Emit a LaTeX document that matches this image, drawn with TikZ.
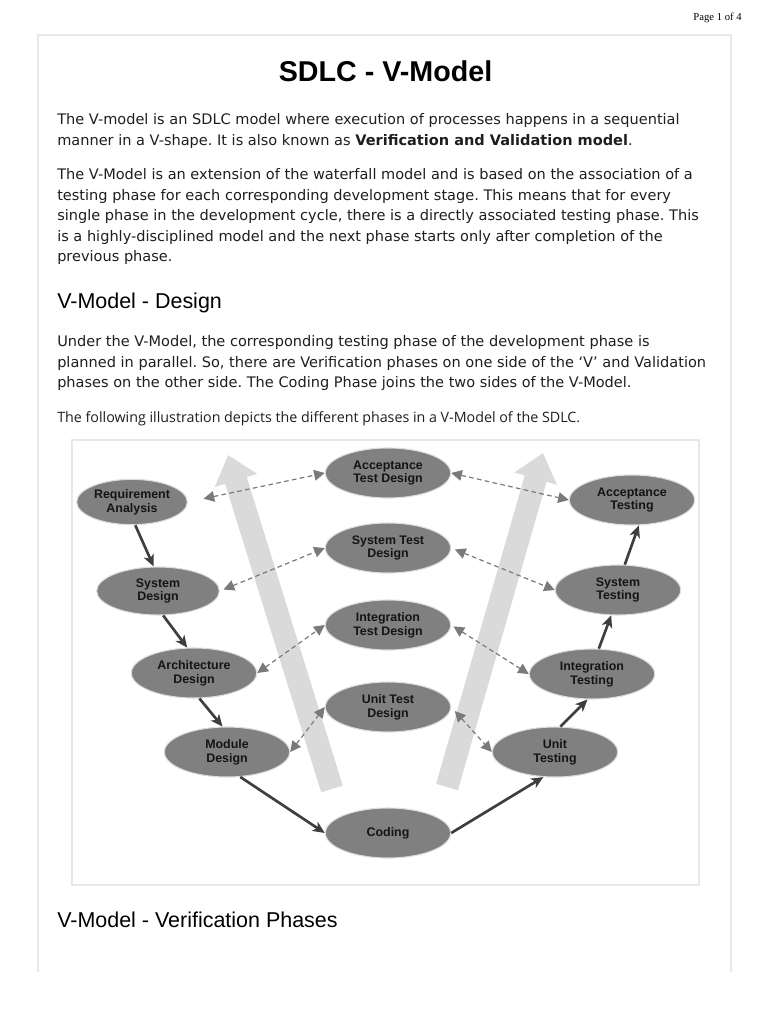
\documentclass[tikz,border=0pt]{standalone}
\usepackage{fontspec}
\usepackage{tikz}
\usetikzlibrary{arrows.meta,shapes.geometric}

\newfontfamily\bodyfont{DejaVu Sans}
\newfontfamily\headfont{Liberation Sans}
\newfontfamily\pagefont{Liberation Serif}
\newfontfamily\capfont{Open Sans}

\definecolor{phasegray}{RGB}{128,128,128}
\definecolor{phaserim}{RGB}{220,220,220}
\definecolor{flowdark}{RGB}{62,62,62}
\definecolor{linkgray}{RGB}{122,122,122}
\definecolor{bandgray}{RGB}{218,218,218}
\definecolor{cardline}{RGB}{232,232,232}
\definecolor{inktext}{RGB}{30,30,30}

\frenchspacing

\begin{document}
\begin{tikzpicture}[x=0.75pt,y=-0.75pt,
    phasebox/.style={ellipse,fill=phasegray,draw=phaserim,line width=0.8pt,
        minimum width=94pt,minimum height=37.5pt,inner sep=0pt,align=center,
        text=black!92,font=\headfont\bfseries\fontsize{9.3}{10.3}\selectfont},
    txtline/.style={anchor=base west,inner sep=0pt,text=inktext,
        font=\bodyfont\fontsize{10.9}{13}\selectfont},
    headline/.style={anchor=base west,inner sep=0pt,text=black,
        font=\headfont\fontsize{16.1}{18}\selectfont},
    flow/.style={draw=flowdark,line width=2pt,
        -{Stealth[length=9pt,width=8pt,inset=2.5pt]}},
    link/.style={draw=linkgray,line width=0.9pt,dash pattern=on 3.5pt off 2.5pt,
        {Triangle[length=8pt,width=8pt]}-{Triangle[length=8pt,width=8pt]}},
    band/.style={draw=bandgray,line width=17pt,-{Triangle[length=20pt,width=32pt]}}]

    \useasboundingbox (0,0) rectangle (768,1024);

    % page header and card
    \node[anchor=base east,inner sep=0pt,font=\pagefont\fontsize{8}{9}\selectfont] (pg) at (742,20.5) {Page 1 of 4};
    \draw[cardline,line width=1.6pt] (38,972) -- (38,35) -- (731,35) -- (731,972);

    % title and text
    \node[anchor=base,inner sep=0pt,font=\headfont\bfseries\fontsize{21.5}{24}\selectfont] (title) at (385.5,82) {SDLC - V-Model};

    \node[txtline] (p1a) at (57,124.5) {The V-model is an SDLC model where execution of processes happens in a sequential};
    \node[txtline] (p1b) at (57,145) {manner in a V-shape. It is also known as \textbf{Verification and Validation model}.};

    \node[txtline] (p2a) at (57,179.5) {The V-Model is an extension of the waterfall model and is based on the association of a};
    \node[txtline] (p2b) at (57,200) {testing phase for each corresponding development stage. This means that for every};
    \node[txtline] (p2c) at (57,220.5) {single phase in the development cycle, there is a directly associated testing phase. This};
    \node[txtline] (p2d) at (57,241) {is a highly-disciplined model and the next phase starts only after completion of the};
    \node[txtline] (p2e) at (57,261.5) {previous phase.};

    \node[headline] (h1) at (57,308) {V-Model - Design};

    \node[txtline] (p3a) at (57,346.5) {Under the V-Model, the corresponding testing phase of the development phase is};
    \node[txtline] (p3b) at (57,367) {planned in parallel. So, there are Verification phases on one side of the ‘V’ and Validation};
    \node[txtline] (p3c) at (57,387.5) {phases on the other side. The Coding Phase joins the two sides of the V-Model.};

    \node[txtline,font=\capfont\fontsize{10.7}{12}\selectfont] (p4) at (57,422.5) {The following illustration depicts the different phases in a V-Model of the SDLC.};

    \node[headline] (h2) at (57,927) {V-Model - Verification Phases};

    % illustration frame
    \draw[cardline,line width=0.8pt] (72,440) rectangle (699,885);

    % phases, left side
    \node[phasebox,minimum width=83pt,minimum height=34pt] (req) at (132,502) {Requirement\\Analysis};
    \node[phasebox,minimum width=92pt,minimum height=36pt] (sysd) at (158,591) {System\\Design};
    \node[phasebox] (arch) at (194,673) {Architecture\\Design};
    \node[phasebox] (mod) at (227,752) {Module\\Design};

    % phases, middle
    \node[phasebox] (atd) at (388,473) {Acceptance\\Test Design};
    \node[phasebox] (std) at (388,548) {System Test\\Design};
    \node[phasebox] (itd) at (388,625) {Integration\\Test Design};
    \node[phasebox] (utd) at (388,707) {Unit Test\\Design};
    \node[phasebox] (code) at (388,833) {Coding};

    % phases, right side
    \node[phasebox] (acct) at (632,500) {Acceptance\\Testing};
    \node[phasebox] (syst) at (618,590) {System\\Testing};
    \node[phasebox] (intt) at (592,674) {Integration\\Testing};
    \node[phasebox] (unit) at (555,752) {Unit\\Testing};

    % light arrows
    \coordinate (lbot) at (332,789);
    \coordinate (ltop) at (228,455);
    \coordinate (rbot) at (447,787);
    \coordinate (rtop) at (543,453);
    \draw[band] (lbot) -- (ltop);
    \draw[band] (rbot) -- (rtop);

    % dashed links
    \draw[link,shorten <=12pt] (req.east) -- (atd.west);
    \draw[link] (atd.east) -- (acct.west);
    \draw[link,shorten <=3pt] (sysd.east) -- (std.west);
    \draw[link,shorten <=3pt] (std.east) -- (syst.west);
    \draw[link] (arch.east) -- (itd.west);
    \draw[link,shorten <=2pt] (itd.east) -- (intt.west);
    \draw[link] (mod.east) -- (utd.west);
    \draw[link,shorten <=4pt] (utd.east) -- (unit.west);

    % flow
    \draw[flow] (req.-82) -- (sysd.100);
    \draw[flow] (sysd.-78) -- (arch.105);
    \draw[flow] (arch.-78) -- (mod.100);
    \draw[flow] (mod.-62) -- (code.west);
    \draw[flow] (code.east) -- (unit.-115);
    \draw[flow] (unit.78) -- (intt.-100);
    \draw[flow] (intt.75) -- (syst.-105);
    \draw[flow] (syst.75) -- (acct.-75);
\end{tikzpicture}
\end{document}
